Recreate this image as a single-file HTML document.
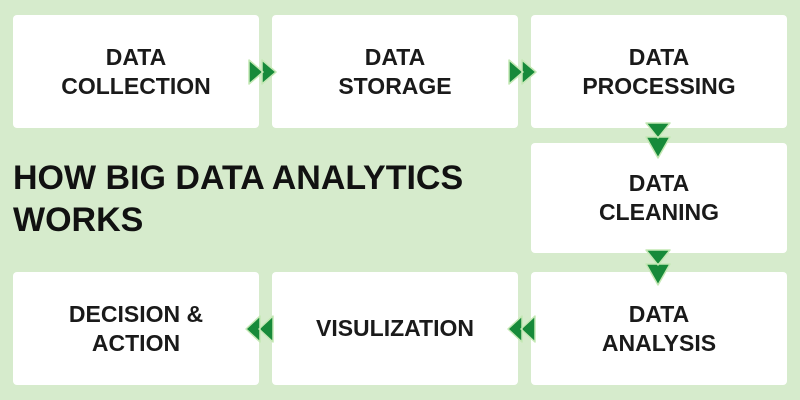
<!DOCTYPE html>
<html><head><style>
body{margin:0;width:800px;height:400px;background:#d6ebcc;position:relative;overflow:hidden;font-family:"Liberation Sans",sans-serif}
.b{position:absolute;background:#fff;border-radius:4px;display:flex;align-items:center;justify-content:center;text-align:center;font-weight:bold;font-size:23px;line-height:29px;color:#1a1a1a}
.t{position:absolute;left:13px;top:157px;font-weight:bold;font-size:34px;line-height:42px;color:#111}
svg{position:absolute}
</style></head><body>
<div class="b" style="left:13px;top:15px;width:246px;height:113px">DATA<br>COLLECTION</div>
<div class="b" style="left:272px;top:15px;width:246px;height:113px">DATA<br>STORAGE</div>
<div class="b" style="left:531px;top:15px;width:256px;height:113px">DATA<br>PROCESSING</div>
<div class="b" style="left:531px;top:143px;width:256px;height:110px">DATA<br>CLEANING</div>
<div class="b" style="left:531px;top:272px;width:256px;height:113px">DATA<br>ANALYSIS</div>
<div class="b" style="left:272px;top:272px;width:246px;height:113px">VISULIZATION</div>
<div class="b" style="left:13px;top:272px;width:246px;height:113px">DECISION &amp;<br>ACTION</div>
<div class="t">HOW BIG DATA ANALYTICS<br>WORKS</div>
<svg width="800" height="400" style="left:0;top:0">
<g fill="#178a3a" stroke="#c4e8b4" stroke-width="1.5" stroke-linejoin="round">
<path d="M249,60 L263,72 L249,84 Z M262,60 L276,72 L262,84 Z"/>
<path d="M509,60 L523,72 L509,84 Z M522,60 L536,72 L522,84 Z"/>
<path d="M646,123 L658,138 L670,123 Z M646,137 L658,158 L670,137 Z"/>
<path d="M646,250 L658,265 L670,250 Z M646,264 L658,285 L670,264 Z"/>
<path d="M535,316 L521,329 L535,342 Z M522,316 L508,329 L522,342 Z"/>
<path d="M273,316 L259,329 L273,342 Z M260,316 L246,329 L260,342 Z"/>
</g></svg>
</body></html>
